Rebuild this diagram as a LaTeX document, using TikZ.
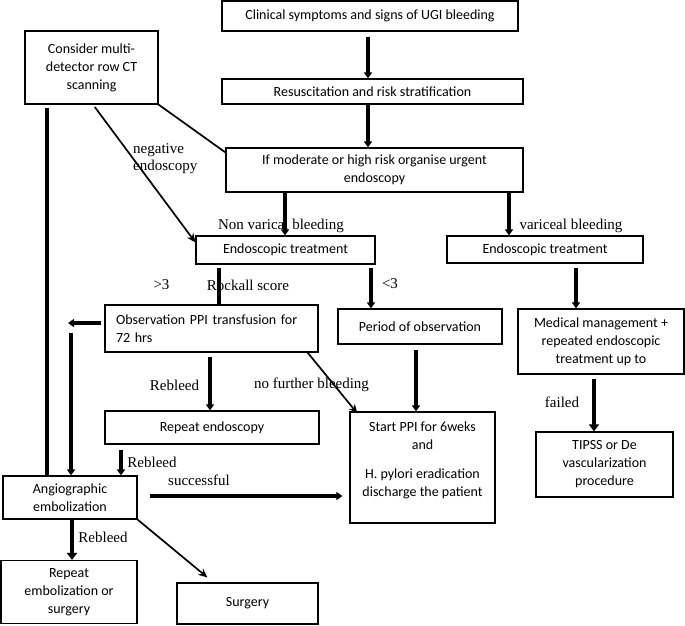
\documentclass[tikz,border=0pt]{standalone}
\usepackage{fontspec}
\setmainfont{Carlito}
\newfontfamily\tms{Liberation Serif}
\usetikzlibrary{arrows.meta,calc}
\begin{document}
\begin{tikzpicture}[x=1pt,y=-1pt,
 box/.style={draw, line width=1.2pt, inner sep=0pt, align=center, font=\fontsize{14}{18}\selectfont},
 lbl/.style={inner sep=0pt, font=\tms\fontsize{15}{17}\selectfont},
 thk/.style={line width=3.2pt, -{Triangle[width=8pt,length=6pt]}},
 thker/.style={line width=4.5pt, -{Triangle[width=10pt,length=7pt]}},
 thn/.style={line width=1.7pt, -{Stealth[width=8pt,length=9pt]}},
 thnline/.style={line width=1.7pt},
 bar/.style={line width=3.8pt}]
\useasboundingbox (0,0) rectangle (685,625);
% boxes
\node[box, minimum width=296pt, minimum height=30pt] (clin) at (370,16) {Clinical symptoms and signs of UGI bleeding};
\node[box, minimum width=301pt, minimum height=25pt] (res) at (372.5,91.5) {Resuscitation and risk stratification};
\node[box, minimum width=297pt, minimum height=44pt] (ifm) at (374.5,170) {If moderate or high risk organise urgent\\endoscopy};
\node[box, minimum width=133pt, minimum height=73pt] (cons) at (91.5,67.5) {Consider multi-\\detector row CT\\scanning};
\node[box, minimum width=179pt, minimum height=28pt] (endL) at (285.5,250) {Endoscopic treatment};
\node[box, minimum width=196pt, minimum height=27pt] (endR) at (545,249.5) {Endoscopic treatment};
\node[box, minimum width=213pt, minimum height=47pt, text width=191pt, align=left] (obs) at (211.5,328.5) {Observation PPI transfusion for\\72 hrs};
\node[box, minimum width=164pt, minimum height=35pt] (per) at (420,326.5) {Period of observation};
\node[box, minimum width=166pt, minimum height=65pt] (med) at (601,341.5) {Medical management +\\repeated endoscopic\\treatment up to};
\node[box, minimum width=214pt, minimum height=33pt] (rep) at (212,427.5) {Repeat endoscopy};
\node[box, minimum width=145pt, minimum height=111pt] (ppi) at (422.5,467.5) {};
\node[box, draw=none] (ppitext) at (422.5,460) {Start PPI for 6weks\\and\\[11pt]H. pylori eradication\\discharge the patient};
\node[box, minimum width=137pt, minimum height=65pt] (tips) at (604.5,464.5) {TIPSS or De\\vascularization\\procedure};
\node[box, minimum width=134pt, minimum height=43pt] (ang) at (70,497.5) {Angiographic\\embolization};
\node[box, minimum width=136pt, minimum height=63pt] (remb) at (69,592) {Repeat\\embolization or\\surgery};
\node[box, minimum width=141pt, minimum height=41pt] (surg) at (247.5,603.5) {Surgery};
% x positions for vertical connectors
\coordinate (xA) at (368,0);
\coordinate (xC) at (285,0);
\coordinate (xD) at (509,0);
\coordinate (xE) at (93,0);
\coordinate (xG) at (47,0);
\coordinate (xH) at (219,0);
\coordinate (xI) at (371,0);
\coordinate (xJ) at (576,0);
\coordinate (xL) at (71,0);
\coordinate (xM) at (210,0);
\coordinate (xO) at (416,0);
\coordinate (xP) at (594,0);
\coordinate (xQ) at (121,0);
\coordinate (xS) at (72,0);
\coordinate (kend) at (68,323);
\coordinate (lstart) at (71,333);
% connectors
\draw[thk, shorten <=5pt] (clin.south -| xA) -- (res.north -| xA);
\draw[thk] (res.south -| xA) -- (ifm.north -| xA);
\draw[thk] (ifm.south -| xC) -- (endL.north -| xC);
\draw[thk] (ifm.south -| xD) -- (endR.north -| xD);
\draw[thn, shorten <=3pt] (cons.south -| xE) -- ([yshift=-7pt]endL.north west);
\draw[thnline] (cons.south east) -- ([yshift=-5pt]ifm.north west);
\draw[bar, shorten <=3pt] (cons.south -| xG) -- (ang.north -| xG);
\draw[thk, -, shorten <=3pt] (endL.south -| xH) -- (obs.north -| xH);
\draw[thk, shorten <=3pt] (endL.south -| xI) -- (per.north -| xI);
\draw[thk, shorten <=4pt] (endR.south -| xJ) -- (med.north -| xJ);
\draw[thk, shorten <=3pt] (obs.west |- kend) -- (kend);
\draw[thk] (lstart) -- (ang.north -| xL);
\draw[thk, shorten <=4pt] (obs.south -| xM) -- (rep.north -| xM);
\draw[thn] ([xshift=-11pt]obs.south east) -- ([xshift=8pt,yshift=-2pt]ppi.north west);
\draw[thk, shorten <=5pt] (per.south -| xO) -- (ppi.north -| xO);
\draw[thker, shorten <=4pt] (med.south -| xP) -- (tips.north -| xP);
\draw[thk, shorten <=5pt] (rep.south -| xQ) -- (ang.north -| xQ);
\draw[thk, shorten <=12pt, shorten >=7pt] ([yshift=1.5pt]ang.east) -- ([yshift=1.5pt]ang.east -| ppi.west);
\draw[thker] (ang.south -| xS) -- (remb.north -| xS);
\draw[thn] (ang.south east) -- ([xshift=31pt,yshift=5pt]surg.north west);
% labels
\node[lbl, align=left, anchor=west] (lneg) at (133,159) {negative\\endoscopy};
\node[lbl] (lnon) at (281,226) {Non varical bleeding};
\node[lbl] (lvar) at (571,226) {variceal bleeding};
\node[lbl] (lgt) at (161.5,285) {>3};
\node[lbl] (lrock) at (248,285) {Rockall score};
\node[lbl] (llt) at (390,284) {<3};
\node[lbl] (lreb1) at (174.5,385) {Rebleed};
\node[lbl] (lnof) at (311.5,385) {no further bleeding};
\node[lbl] (lfail) at (562,402) {failed};
\node[lbl] (lreb2) at (152,462) {Rebleed};
\node[lbl] (lsucc) at (199,480) {successful};
\node[lbl] (lreb3) at (103,537) {Rebleed};
\end{tikzpicture}
\end{document}
